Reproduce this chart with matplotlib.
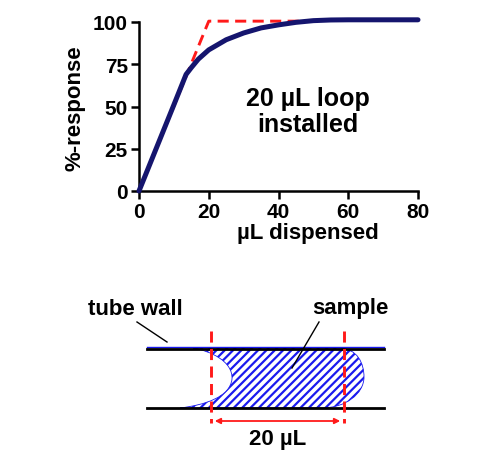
import matplotlib
matplotlib.use("Agg")
import matplotlib.pyplot as plt
from matplotlib.path import Path
from matplotlib.patches import PathPatch, FancyArrowPatch

plt.rcParams['font.family'] = ['Liberation Sans', 'DejaVu Sans']
plt.rcParams['font.weight'] = 'bold'
plt.rcParams['hatch.linewidth'] = 1.6

# measured response vs dispensed volume
vol = [0, 5, 10, 13.5, 15, 17, 20, 25, 30, 35, 40, 45, 50, 55, 60, 80]
response = [0, 25.5, 51, 69, 73, 78, 83.5, 89.5, 93.5, 96.5, 98.3, 99.8, 100.8, 101.2, 101.3, 101.3]

# ideal plug-flow response
ideal_vol = [0, 20, 48]
ideal_resp = [0, 100.5, 100.5]

x_ticks = [0, 20, 40, 60, 80]
y_ticks = [0, 25, 50, 75, 100]

W, H = 495, 464
fig = plt.figure(figsize=(W / 100, H / 100), dpi=100)

ax = fig.add_axes([139 / W, 1 - 192 / H, 279 / W, 169 / H])
ax.plot(ideal_vol, ideal_resp, color='#ff1a1a', lw=2.1, dashes=(3.8, 2.2), clip_on=False, zorder=2)
ax.plot(vol, response, color='#15156e', lw=3.6, clip_on=False, zorder=3, solid_capstyle='round')
ax.set_xlim(0, 80)
ax.set_ylim(0, 100)
ax.set_xticks(x_ticks)
ax.set_yticks(y_ticks)
for s in ['top', 'right']:
    ax.spines[s].set_visible(False)
for s in ['left', 'bottom']:
    ax.spines[s].set_linewidth(1.8)
ax.tick_params(width=1.8, length=6, labelsize=15, pad=2)
for lab in ax.get_xticklabels() + ax.get_yticklabels():
    lab.set_fontweight('bold')
fig.text(75 / W, 1 - 108 / H, '%-response', rotation=90, ha='center', va='center',
         fontsize=16, fontweight='bold')
fig.text(308 / W, 1 - 233 / H, 'µL dispensed', ha='center', va='center',
         fontsize=16, fontweight='bold')
ax.text(48.5, 47.5, '20 µL loop\ninstalled', ha='center', va='center',
        fontsize=18, fontweight='bold', linespacing=1.1)

# tube diagram, in pixel coordinates
dg = fig.add_axes([0, 0, 1, 1], zorder=-1)
dg.set_xlim(0, W)
dg.set_ylim(H, 0)
dg.axis('off')

top, bot = 349, 409
verts = [(193, top), (338, top),
         (358, top), (364, 365), (364, 378),
         (364, 395), (345, bot), (322, bot),
         (180, bot),
         (205, 406), (230, 398), (232, 380),
         (233, 362), (210, 352), (193, top),
         (193, top)]
codes = [Path.MOVETO, Path.LINETO,
         Path.CURVE4, Path.CURVE4, Path.CURVE4,
         Path.CURVE4, Path.CURVE4, Path.CURVE4,
         Path.LINETO,
         Path.CURVE4, Path.CURVE4, Path.CURVE4,
         Path.CURVE4, Path.CURVE4, Path.CURVE4,
         Path.CLOSEPOLY]
sample = PathPatch(Path(verts, codes), facecolor='white', edgecolor='#1a1aee',
                   hatch='////', lw=0.6)
dg.add_patch(sample)

dg.plot([147, 384], [top - 1.5, top - 1.5], color='#1a1aee', lw=1.0)
dg.plot([147, 384], [top + 0.5, top + 0.5], color='black', lw=2.0)
dg.plot([147, 384], [bot, bot], color='black', lw=2.0)

for xv in (211, 344):
    dg.plot([xv, xv], [332, 424], color='#ff1a1a', lw=2.1, dashes=(3.8, 2.2))
dg.add_patch(FancyArrowPatch((212, 422), (343, 422), arrowstyle='<|-|>',
                             mutation_scale=8, color='#ff1a1a', lw=1.3))

dg.plot([137, 167], [323, 343], color='black', lw=1.0)
dg.plot([319, 292], [323, 369], color='black', lw=1.0)
dg.text(135, 310, 'tube wall', ha='center', va='center', fontsize=16, fontweight='bold')
dg.text(350, 309, 'sample', ha='center', va='center', fontsize=16, fontweight='bold')
dg.text(278, 440, '20 µL', ha='center', va='center', fontsize=16, fontweight='bold')

fig.savefig('out.png', dpi=100)
